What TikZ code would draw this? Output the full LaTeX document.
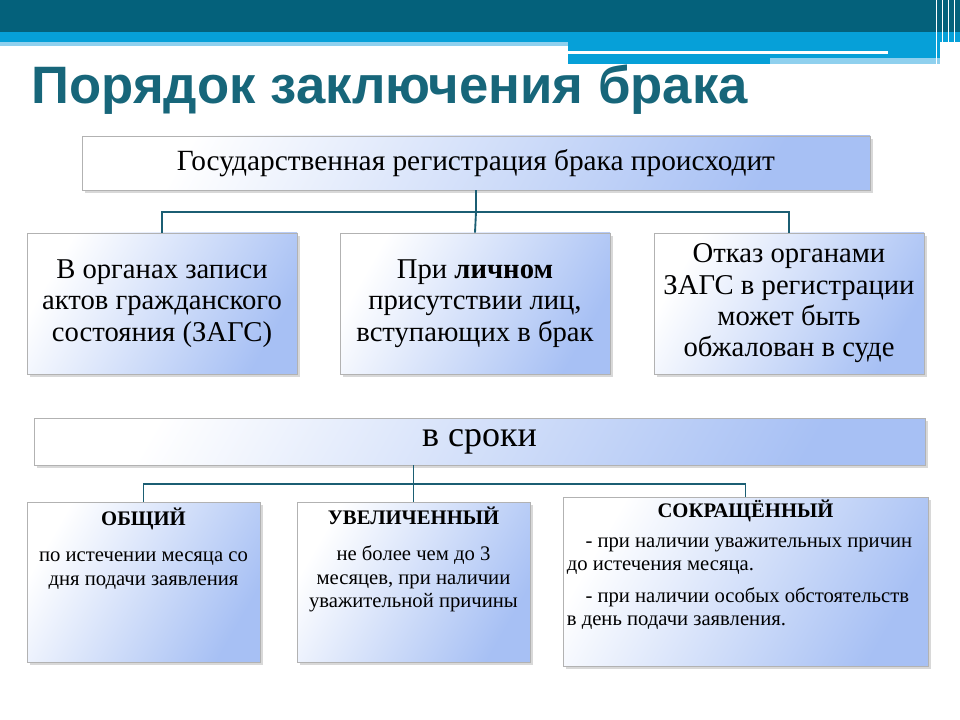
\documentclass[tikz,border=0pt]{standalone}
\usepackage{fontspec}
\setmainfont{Liberation Serif}
\newfontfamily\titlefont{Liberation Sans}
\usetikzlibrary{shadows}
\definecolor{barDark}{HTML}{04617B}
\definecolor{barLight}{HTML}{06A0D8}
\definecolor{barPale}{HTML}{8FD0EE}
\definecolor{titleTeal}{HTML}{17667A}
\definecolor{boxBlue}{HTML}{A7C0F4}
\definecolor{lineTeal}{HTML}{1B5E73}

\tikzset{
  box/.style={draw=gray!60, line width=0.6pt, shading=axis, left color=white,
    right color=boxBlue, shading angle=60, drop shadow={shadow xshift=2pt,
    shadow yshift=-2pt, fill=gray!60}, align=center, inner sep=2pt},
  link/.style={draw=lineTeal, line width=1.4pt},
}

\begin{document}
\begin{tikzpicture}[x=0.75pt, y=-0.75pt]
  \useasboundingbox (0,0) rectangle (960,720);
  % header bars
  \fill[barDark] (0,0) rectangle (960,32);
  \fill[barLight] (0,32) rectangle (960,42);
  \fill[barPale] (0,42) rectangle (568,46);
  \fill[barLight] (568,42) rectangle (940,64);
  \fill[white] (568,51) rectangle (888,54);
  \fill[barPale] (770,58) rectangle (940,64);
  \foreach \x in {936,942,948,954} \draw[white, line width=0.6pt] (\x,0) -- (\x,64);

  \node[anchor=west, font=\titlefont\bfseries\fontsize{39.5}{44}\selectfont, text=titleTeal]
    (title) at (27,90) {Порядок заключения брака};

  % top level
  \node[box, minimum width=788*0.75pt, minimum height=54*0.75pt,
    font=\fontsize{22}{26}\selectfont] (reg) at (476,163)
    {Государственная регистрация брака происходит};

  \foreach \name/\cx/\txt in {
      zags/162/{В органах записи\\актов гражданского\\состояния (ЗАГС)},
      lich/475/{При \textbf{личном}\\присутствии лиц,\\вступающих в брак},
      otkaz/789/{Отказ органами\\ЗАГС в регистрации\\может быть\\обжалован в суде}}
    \node[box, minimum width=270*0.75pt, minimum height=141*0.75pt,
      font=\fontsize{21.5}{23.5}\selectfont] (\name) at (\cx,303.5) {\txt};

  \coordinate (fork) at (476,212);
  \draw[link] (reg.south) -- (fork);
  \draw[link] (zags.north) |- (fork) -| (otkaz.north);
  \draw[link] (fork) -- (lich.north);

  % terms
  \node[box, minimum width=891*0.75pt, minimum height=47*0.75pt,
    font=\fontsize{27}{30}\selectfont] (sroki) at (479.5,441.5) {в сроки};

  \node[box, minimum width=233*0.75pt, minimum height=160*0.75pt,
    font=\fontsize{15.5}{17.5}\selectfont] (obsh) at (143.5,582)
    {\textbf{ОБЩИЙ}\\[10pt]по истечении месяца со\\дня подачи заявления\\[36pt]};
  \node[box, minimum width=233*0.75pt, minimum height=160*0.75pt,
    font=\fontsize{15.5}{17.5}\selectfont] (uvel) at (413.5,582)
    {\textbf{УВЕЛИЧЕННЫЙ}\\[10pt]не более чем до 3\\месяцев, при наличии\\уважительной причины\\[20pt]};
  \node[box, minimum width=365*0.75pt, minimum height=160*0.75pt,
    font=\fontsize{15.5}{17.5}\selectfont] (sokr) at (745.5,582)
    {\begin{minipage}{268pt}
      \centering\textbf{СОКРАЩЁННЫЙ}\par\vspace{5pt}
      \raggedright\hspace*{14pt}- при наличии уважительных причин\\
      до истечения месяца.\par\vspace{6pt}
      \hspace*{14pt}- при наличии особых обстоятельств\\
      в день подачи заявления.\par\vspace{26pt}
    \end{minipage}};

  \coordinate (fork2) at (413.5,484);
  \draw[link] (obsh.north) |- (fork2) -| (sokr.north);
  \draw[link] (sroki.south -| fork2) -- (uvel.north);
\end{tikzpicture}
\end{document}
